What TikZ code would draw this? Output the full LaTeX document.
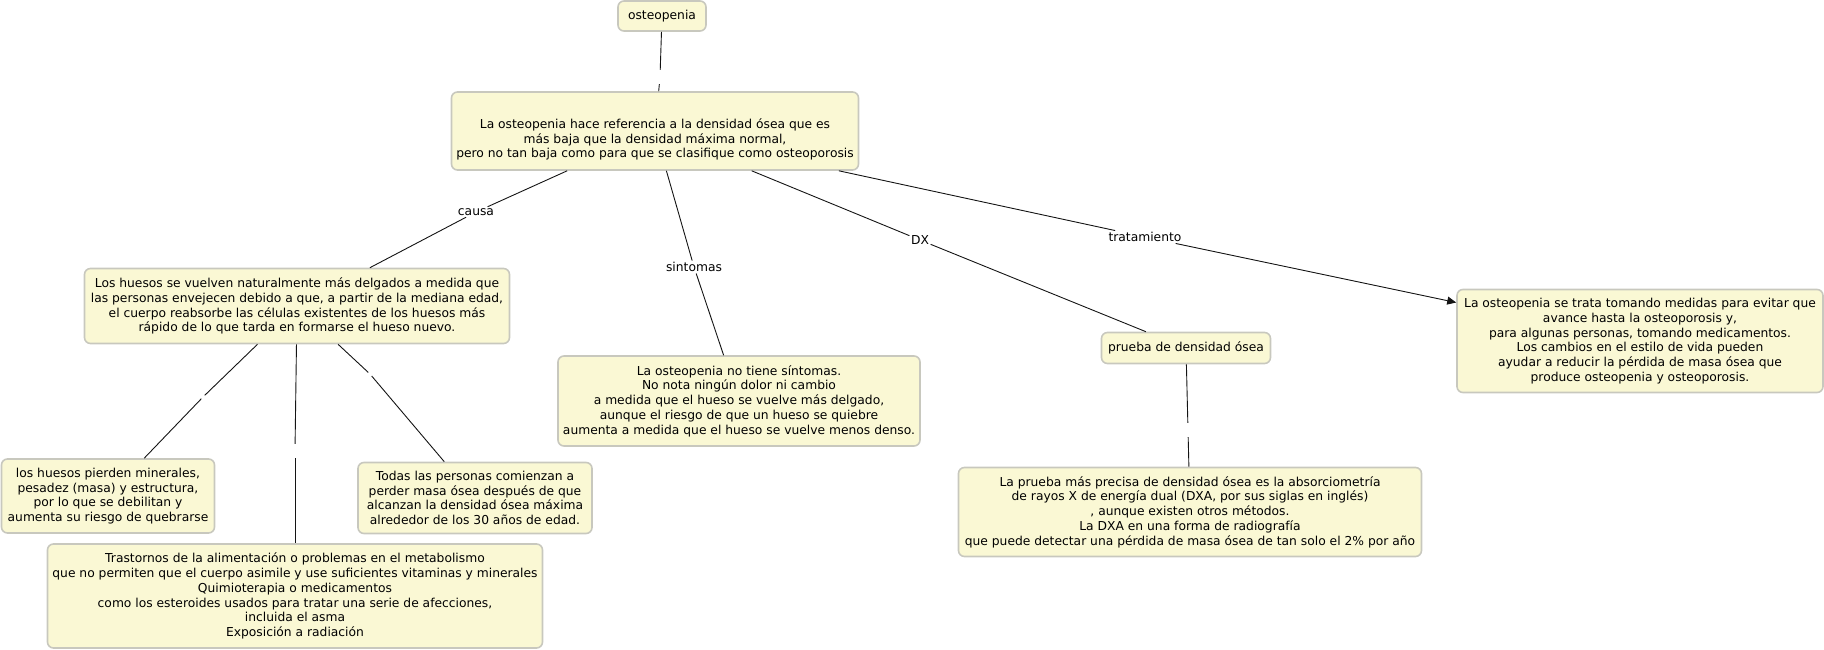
\documentclass[tikz,border=0pt]{standalone}
\usepackage{fontspec}
\setmainfont{DejaVu Sans}
\usepackage{tikz}
\usetikzlibrary{arrows.meta}
\definecolor{conceptfill}{RGB}{250, 248, 212}
\definecolor{conceptline}{RGB}{200, 200, 190}
\definecolor{linkline}   {RGB}{20,  20,  20}

\begin{document}
\begin{tikzpicture}[x=1pt, y=-1pt, >=Triangle,
  concept/.style={draw=conceptline, line width=1.6pt, rounded corners=6pt, fill=conceptfill, align=center, inner sep=0pt, font=\fontsize{12.3}{14.8}\selectfont},
  phrase/.style={inner sep=1.5pt, font=\fontsize{12.3}{14.8}\selectfont},
  emptylink/.style={inner sep=0pt, minimum width=3pt, minimum height=14pt},
  link/.style={line width=0.9pt, color=linkline},
  linkarrow/.style={->, line width=0.9pt, color=linkline, arrows={-Triangle[length=9pt, width=8pt]}}
]
  \useasboundingbox (0,0) rectangle (1824,649);

  % Concepts
  \node[concept, minimum width=88pt, minimum height=30pt] (osteo) at (662,16) {osteopenia};
  \node[concept, minimum width=407pt, minimum height=78pt] (def) at (655,131) {\rule{0pt}{12pt}\\La osteopenia hace referencia a la densidad ósea que es\\más baja que la densidad máxima normal,\\pero no tan baja como para que se clasifique como osteoporosis};
  \node[concept, minimum width=425pt, minimum height=75pt] (huesos) at (297,306) {Los huesos se vuelven naturalmente más delgados a medida que\\las personas envejecen debido a que, a partir de la mediana edad,\\el cuerpo reabsorbe las células existentes de los huesos más\\rápido de lo que tarda en formarse el hueso nuevo.};
  \node[concept, minimum width=362pt, minimum height=90pt] (sint) at (739,401) {La osteopenia no tiene síntomas.\\No nota ningún dolor ni cambio\\a medida que el hueso se vuelve más delgado,\\aunque el riesgo de que un hueso se quiebre\\aumenta a medida que el hueso se vuelve menos denso.};
  \node[concept, minimum width=169pt, minimum height=31pt] (prueba) at (1186,348) {prueba de densidad ósea};
  \node[concept, minimum width=366pt, minimum height=103pt] (trat) at (1640,341) {La osteopenia se trata tomando medidas para evitar que\\avance hasta la osteoporosis y,\\para algunas personas, tomando medicamentos.\\Los cambios en el estilo de vida pueden\\ayudar a reducir la pérdida de masa ósea que\\produce osteopenia y osteoporosis.};
  \node[concept, minimum width=213pt, minimum height=74pt] (pierden) at (108,496) {los huesos pierden minerales,\\pesadez (masa) y estructura,\\por lo que se debilitan y\\aumenta su riesgo de quebrarse};
  \node[concept, minimum width=234pt, minimum height=71pt] (todas) at (475,498) {Todas las personas comienzan a\\perder masa ósea después de que\\alcanzan la densidad ósea máxima\\alrededor de los 30 años de edad.};
  \node[concept, minimum width=495pt, minimum height=104pt] (trast) at (295,596) {Trastornos de la alimentación o problemas en el metabolismo\\que no permiten que el cuerpo asimile y use suficientes vitaminas y minerales\\Quimioterapia o medicamentos\\como los esteroides usados para tratar una serie de afecciones,\\incluida el asma\\Exposición a radiación};
  \node[concept, minimum width=463pt, minimum height=89pt] (dxa) at (1190,512) {La prueba más precisa de densidad ósea es la absorciometría\\de rayos X de energía dual (DXA, por sus siglas en inglés)\\, aunque existen otros métodos.\\La DXA en una forma de radiografía\\que puede detectar una pérdida de masa ósea de tan solo el 2\% por año};

  % Linking phrases
  \node[phrase] (lcausa) at (476,212) {causa};
  \node[phrase] (lsint) at (694,267) {sintomas};
  \node[phrase] (ldx) at (920,240) {DX};
  \node[phrase] (ltrat) at (1145,237) {tratamiento};
  \node[emptylink] (l0) at (660,77) {};
  \node[emptylink] (l1) at (203,397) {};
  \node[emptylink] (l2) at (295,451) {};
  \node[emptylink] (l3) at (370,374) {};
  \node[emptylink] (l4) at (1188,430) {};

  % Connections
  \draw[link] (osteo) -- (l0);
  \draw[link] (l0) -- (def);
  \draw[link] (def) -- (lcausa);
  \draw[link] (lcausa) -- (huesos);
  \draw[link] (def) -- (lsint);
  \draw[link] (lsint) -- (sint);
  \draw[link] (def) -- (ldx);
  \draw[link] (ldx) -- (prueba);
  \draw[link] (def) -- (ltrat);
  \draw[linkarrow] (ltrat) -- (trat);
  \draw[link] (huesos) -- (l1);
  \draw[link] (l1) -- (pierden);
  \draw[link] (huesos) -- (l2);
  \draw[link] (l2) -- (trast);
  \draw[link] (huesos) -- (l3);
  \draw[link] (l3) -- (todas);
  \draw[link] (prueba) -- (l4);
  \draw[link] (l4) -- (dxa);
\end{tikzpicture}
\end{document}
